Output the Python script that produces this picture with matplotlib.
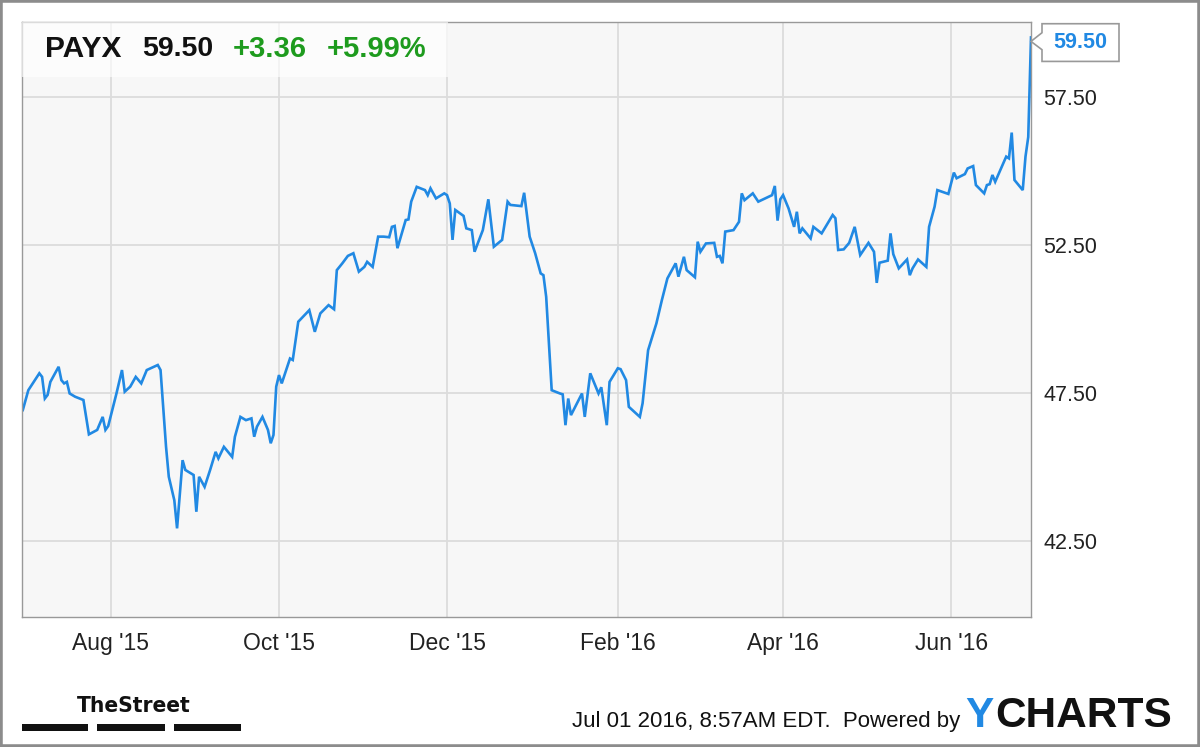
import pandas as pd
import matplotlib.pyplot as plt
import matplotlib.dates as mdates
from matplotlib.patches import Rectangle, Polygon
from matplotlib.transforms import IdentityTransform

plt.rcParams['font.family'] = ['Liberation Sans', 'DejaVu Sans']

# header values
ticker = 'PAYX'
last_price = 59.50
change = 3.36
change_pct = 5.99
stamp = 'Jul 01 2016, 8:57AM EDT.'

# daily closes
dates = [
    '2015-06-30', '2015-07-02', '2015-07-06', '2015-07-07', '2015-07-08', '2015-07-09',
    '2015-07-10', '2015-07-13', '2015-07-14', '2015-07-15', '2015-07-16', '2015-07-17',
    '2015-07-19', '2015-07-22', '2015-07-24', '2015-07-27', '2015-07-29', '2015-07-30',
    '2015-07-31', '2015-08-03', '2015-08-05', '2015-08-06', '2015-08-08', '2015-08-10',
    '2015-08-12', '2015-08-14', '2015-08-18', '2015-08-19', '2015-08-21', '2015-08-22',
    '2015-08-24', '2015-08-25', '2015-08-27', '2015-08-28', '2015-08-31', '2015-09-01',
    '2015-09-02', '2015-09-04', '2015-09-06', '2015-09-08', '2015-09-09', '2015-09-11',
    '2015-09-14', '2015-09-15', '2015-09-17', '2015-09-19', '2015-09-21', '2015-09-22',
    '2015-09-23', '2015-09-25', '2015-09-27', '2015-09-28', '2015-09-29', '2015-09-30',
    '2015-10-01', '2015-10-02', '2015-10-05', '2015-10-06', '2015-10-08', '2015-10-12',
    '2015-10-14', '2015-10-16', '2015-10-19', '2015-10-21', '2015-10-22', '2015-10-24',
    '2015-10-26', '2015-10-28', '2015-10-30', '2015-11-01', '2015-11-02', '2015-11-04',
    '2015-11-06', '2015-11-08', '2015-11-10', '2015-11-11', '2015-11-12', '2015-11-13',
    '2015-11-16', '2015-11-17', '2015-11-18', '2015-11-20', '2015-11-23', '2015-11-24',
    '2015-11-25', '2015-11-27', '2015-11-30', '2015-12-01', '2015-12-02', '2015-12-03',
    '2015-12-04', '2015-12-07', '2015-12-08', '2015-12-10', '2015-12-11', '2015-12-14',
    '2015-12-16', '2015-12-18', '2015-12-21', '2015-12-23', '2015-12-24', '2015-12-28',
    '2015-12-29', '2015-12-31', '2016-01-02', '2016-01-04', '2016-01-05', '2016-01-06',
    '2016-01-08', '2016-01-11', '2016-01-12', '2016-01-13', '2016-01-14', '2016-01-15',
    '2016-01-19', '2016-01-20', '2016-01-22', '2016-01-25', '2016-01-26', '2016-01-28',
    '2016-01-29', '2016-02-01', '2016-02-02', '2016-02-04', '2016-02-05', '2016-02-09',
    '2016-02-10', '2016-02-12', '2016-02-15', '2016-02-17', '2016-02-19', '2016-02-22',
    '2016-02-23', '2016-02-25', '2016-02-26', '2016-02-29', '2016-03-01', '2016-03-02',
    '2016-03-04', '2016-03-07', '2016-03-08', '2016-03-09', '2016-03-10', '2016-03-11',
    '2016-03-14', '2016-03-16', '2016-03-17', '2016-03-18', '2016-03-21', '2016-03-23',
    '2016-03-28', '2016-03-29', '2016-03-30', '2016-03-31', '2016-04-01', '2016-04-03',
    '2016-04-05', '2016-04-06', '2016-04-07', '2016-04-08', '2016-04-11', '2016-04-12',
    '2016-04-15', '2016-04-19', '2016-04-20', '2016-04-21', '2016-04-23', '2016-04-25',
    '2016-04-27', '2016-04-29', '2016-05-02', '2016-05-04', '2016-05-05', '2016-05-06',
    '2016-05-09', '2016-05-10', '2016-05-11', '2016-05-13', '2016-05-16', '2016-05-17',
    '2016-05-18', '2016-05-20', '2016-05-23', '2016-05-24', '2016-05-26', '2016-05-27',
    '2016-05-31', '2016-06-02', '2016-06-03', '2016-06-06', '2016-06-07', '2016-06-09',
    '2016-06-10', '2016-06-13', '2016-06-14', '2016-06-15', '2016-06-16', '2016-06-17',
    '2016-06-20', '2016-06-21', '2016-06-22', '2016-06-23', '2016-06-24', '2016-06-27',
    '2016-06-28', '2016-06-29', '2016-06-30',
]
prices = [
    46.93, 47.60, 48.17, 48.05, 47.32, 47.44,
    47.88, 48.39, 47.94, 47.83, 47.88, 47.49,
    47.38, 47.27, 46.11, 46.26, 46.70, 46.26,
    46.39, 47.49, 48.28, 47.55, 47.72, 48.05,
    47.83, 48.28, 48.45, 48.28, 45.69, 44.68,
    43.89, 42.94, 45.24, 44.91, 44.74, 43.50,
    44.68, 44.34, 44.91, 45.52, 45.30, 45.69,
    45.35, 46.03, 46.70, 46.59, 46.65, 46.03,
    46.37, 46.70, 46.26, 45.81, 46.09, 47.72,
    48.11, 47.83, 48.67, 48.62, 49.91, 50.30,
    49.57, 50.19, 50.47, 50.33, 51.65, 51.88,
    52.13, 52.22, 51.60, 51.76, 51.93, 51.76,
    52.78, 52.78, 52.76, 53.11, 53.14, 52.39,
    53.34, 53.36, 53.96, 54.46, 54.35, 54.18,
    54.41, 54.07, 54.24, 54.18, 53.90, 52.67,
    53.68, 53.48, 53.06, 53.00, 52.27, 53.00,
    54.04, 52.44, 52.67, 53.96, 53.85, 53.81,
    54.26, 52.78, 52.22, 51.54, 51.48, 50.75,
    47.60, 47.49, 47.46, 46.42, 47.32, 46.76,
    47.49, 46.70, 48.17, 47.49, 47.70, 46.42,
    47.88, 48.34, 48.31, 47.94, 47.04, 46.70,
    47.16, 48.95, 49.85, 50.64, 51.37, 51.88,
    51.43, 52.10, 51.65, 51.41, 52.61, 52.27,
    52.55, 52.57, 52.10, 52.13, 51.88, 52.95,
    53.00, 53.28, 54.24, 54.01, 54.24, 53.96,
    54.18, 54.49, 53.32, 54.04, 54.18, 53.73,
    53.11, 53.62, 52.89, 53.06, 52.72, 53.11,
    52.89, 53.51, 53.40, 52.33, 52.35, 52.57,
    53.11, 52.16, 52.57, 52.27, 51.22, 51.90,
    51.97, 52.89, 52.19, 51.71, 52.01, 51.48,
    51.71, 52.01, 51.76, 53.11, 53.79, 54.35,
    54.22, 54.94, 54.75, 54.89, 55.08, 55.16,
    54.52, 54.24, 54.52, 54.55, 54.86, 54.63,
    55.27, 55.48, 55.42, 56.29, 54.69, 54.35,
    55.48, 56.14, 59.50,
]

y_ticks = [42.5, 47.5, 52.5, 57.5]
x_ticks = ['2015-08-01', '2015-10-01', '2015-12-01', '2016-02-01', '2016-04-01', '2016-06-01']
x_labels = ["Aug '15", "Oct '15", "Dec '15", "Feb '16", "Apr '16", "Jun '16"]

blue = '#2189e3'
green = '#1e9b1e'

W, H = 1200, 747
fig = plt.figure(figsize=(W / 100, H / 100), dpi=100)


def fx(x):
    return x / W


def fy(y):
    return 1 - y / H


ax = fig.add_axes([fx(22), fy(617), fx(1031) - fx(22), fy(22) - fy(617)])
ax.set_facecolor('#f7f7f7')

d = pd.to_datetime(dates)
ax.plot(d, prices, color=blue, lw=1.9, solid_joinstyle='miter', zorder=2)

ax.set_xlim(pd.Timestamp('2015-06-29 17:00'), pd.Timestamp('2016-06-30'))
ax.set_ylim(39.95, 60.02)

ax.set_xticks(pd.to_datetime(x_ticks))
ax.set_xticklabels(x_labels)
ax.set_yticks(y_ticks)
ax.set_yticklabels([f'{v:.2f}' for v in y_ticks])
ax.yaxis.tick_right()
ax.tick_params(length=0, labelsize=15.5, colors='#222222')
ax.tick_params(axis='y', pad=9)
ax.tick_params(axis='x', pad=11, labelsize=16.5)
ax.grid(color='#dcdcdc', lw=1.3, zorder=0)
ax.set_axisbelow(True)
for s in ax.spines.values():
    s.set_color('#999999')
    s.set_linewidth(1.0)

# header box with quote
ax.add_patch(Rectangle((0, (617 - 77) / 595), (448 - 22) / 1009, 1 - (617 - 77) / 595,
                       transform=ax.transAxes, facecolor='white', alpha=0.65,
                       edgecolor='none', zorder=3))
hy = fy(49)
fig.text(fx(45), hy, ticker, fontsize=21.5, fontweight='bold', color='#111111', va='center')
fig.text(fx(142), hy, f'{last_price:.2f}', fontsize=20.5, fontweight='bold', color='#111111', va='center')
fig.text(fx(233), hy, f'+{change:.2f}', fontsize=21, fontweight='bold', color=green, va='center')
fig.text(fx(327), hy, f'+{change_pct:.2f}%', fontsize=21, fontweight='bold', color=green, va='center')

# last price flag pointing at the final point
tx, ty = ax.transData.transform((mdates.date2num(d[-1]), prices[-1]))
ty -= 4
flag = [(0, 0), (11, 8.7), (11, 17.7), (88, 17.7), (88, -20), (11, -20), (11, -8.3)]
fig.add_artist(Polygon([(tx + a, ty + b) for a, b in flag], closed=True,
                       transform=IdentityTransform(), facecolor='white',
                       edgecolor='#999999', lw=1.2, zorder=5))
fig.text(tx + 49.5, ty - 1, f'{prices[-1]:.2f}', transform=IdentityTransform(),
         fontsize=15.5, fontweight='bold', color=blue, ha='center', va='center', zorder=6)

# footer
fig.text(fx(77), fy(712), 'TheStreet', family='DejaVu Sans', fontstretch='condensed',
         fontsize=16.2, fontweight='bold', color='#111111', va='baseline')
for x0, x1 in [(22, 88), (97, 165), (174, 241)]:
    fig.add_artist(Rectangle((fx(x0), fy(731)), fx(x1) - fx(x0), fy(724) - fy(731),
                             transform=fig.transFigure, facecolor='#111111', edgecolor='none'))
fig.text(fx(572), fy(727), stamp + '  Powered by', fontsize=16, color='#111111', va='baseline')
fig.text(fx(965), fy(727), 'Y', fontsize=30.5, fontweight='bold', color=blue, va='baseline')
fig.text(fx(995), fy(727), 'CHARTS', fontsize=30.5, fontweight='bold', color='#111111', va='baseline')

# outer frame
fig.add_artist(Rectangle((0, 0), 1, 1, transform=fig.transFigure, fill=False,
                         edgecolor='#8c8c8c', lw=4))

fig.savefig('out.png', dpi=100)
